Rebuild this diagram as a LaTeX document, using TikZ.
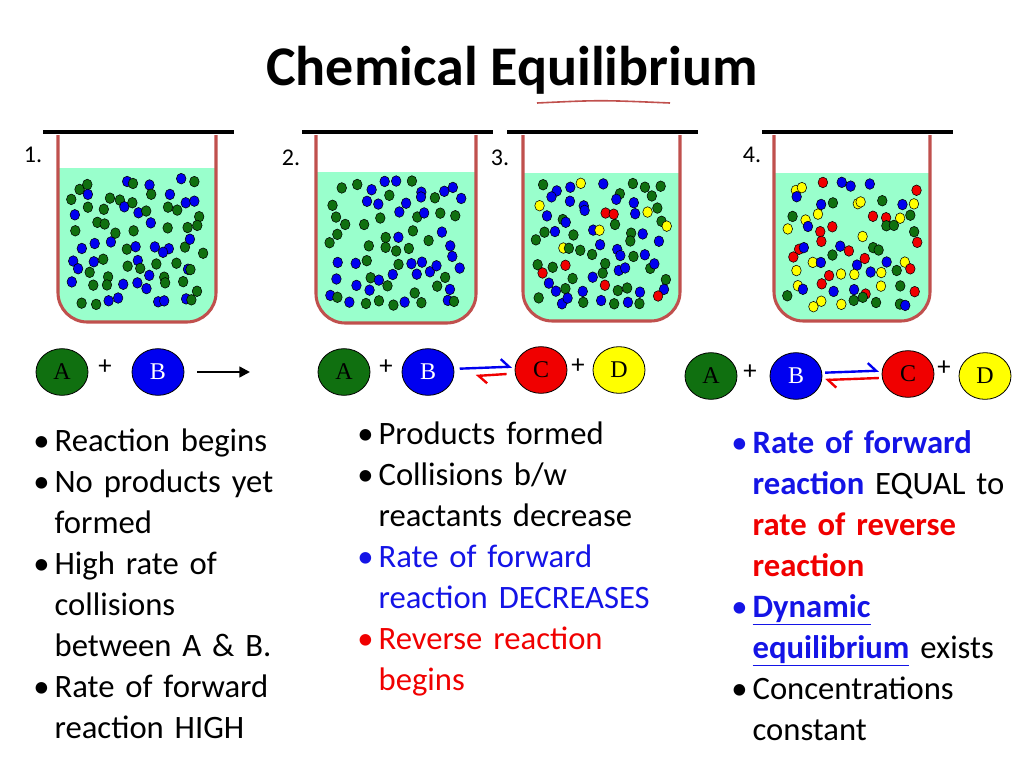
\documentclass[tikz,border=0pt]{standalone}
\usepackage{fontspec}
\setmainfont{Carlito}
\newfontfamily\serifx{Liberation Serif}
\usetikzlibrary{shapes.geometric,arrows.meta}
\definecolor{dgreen}{RGB}{16,112,16}
\definecolor{dblue}{RGB}{0,0,240}
\definecolor{dred}{RGB}{240,0,0}
\definecolor{dyel}{RGB}{255,255,0}
\definecolor{wall}{RGB}{192,80,77}
\definecolor{liq}{RGB}{153,255,204}
\definecolor{tblue}{RGB}{20,20,230}
\newcommand\fillbeaker[7]{% x1 x2 liq bot cumG cumB cumR
 \foreach \c in {0,...,8}{\foreach \r in {0,...,8}{%
  \pgfmathsetmacro\ppx{#1+12+(\c+0.5+(rnd-0.5)*0.9)*(#2-#1-24)/9}%
  \pgfmathsetmacro\ppy{#3+8+(\r+0.5+(rnd-0.5)*0.9)*(#4-#3-20)/9}%
  \pgfmathsetmacro\pc{rnd}%
  \pgfmathtruncatemacro\col{\pc<#5 ? 1 : (\pc<#6 ? 2 : (\pc<#7 ? 3 : 4))}%
  \ifcase\col\or\def\dc{dgreen}\or\def\dc{dblue}\or\def\dc{dred}\else\def\dc{dyel}\fi
  \pgfmathsetmacro\skip{rnd}%
  \ifdim\skip pt<0.9pt
  \fill[\dc,draw=black,line width=0.4pt] (\ppx,\ppy) ellipse (3.6pt and 4pt);
  \fi
 }}}
\newcommand\beaker[5]{% x1 x2 liquid bottom lineleft
  \fill[liq] (#1,#3) -- (#1,#4-30) [rounded corners=22] -- (#1,#4) -- (#2,#4) [sharp corners] -- (#2,#4-30) -- (#2,#3) -- cycle;
  \draw[wall,line width=2.3pt] (#1,135) -- (#1,#4-30) [rounded corners=22] -- (#1,#4) -- (#2,#4) [sharp corners] -- (#2,#4-30) -- (#2,135);
  \draw[line width=2.3pt] (#5,132) -- ++(191,0);
}
\tikzset{mol/.style={ellipse,draw=black,line width=0.6pt,minimum width=39pt,minimum height=35pt,inner sep=0pt,font=\serifx\fontsize{18}{18}\selectfont},
 pl/.style={font=\fontsize{20}{20}\selectfont},
 txt/.style={anchor=north west,inner sep=0pt,font=\fontsize{24.5}{30.8}\selectfont},
 num/.style={font=\fontsize{18}{18}\selectfont}}
\newcommand\bit[2][black]{\par\raggedright\hangindent=16pt\hangafter=1\noindent\makebox[16pt][l]{\color{#1}\textbullet}#2\par}
\begin{document}
\begin{tikzpicture}[x=0.75pt,y=-0.75pt]
\useasboundingbox (0,0) rectangle (1024,768);
\node (title) at (512,70) {\fontsize{42}{42}\selectfont\bfseries Chemical Equilibrium};
\draw[wall,line width=1.2pt] (537,103) .. controls (600,100) .. (670,103);
\pgfmathsetseed{11}
\beaker{58}{216}{168}{322}{43}
\beaker{316}{476}{172}{323}{302}
\beaker{523}{680}{173}{321}{507}
\beaker{774}{930}{173}{321}{762}
\fillbeaker{58}{216}{168}{322}{0.52}{1.1}{1.2}
\fillbeaker{316}{476}{172}{323}{0.5}{0.95}{0.975}
\fillbeaker{523}{680}{173}{321}{0.38}{0.78}{0.89}
\fillbeaker{774}{930}{173}{321}{0.22}{0.45}{0.72}
\node[num] (n1) at (33,155) {1.};
\node[num] (n2) at (291,158) {2.};
\node[num] (n3) at (500,158) {3.};
\node[num] (n4) at (752,155) {4.};
% row 1
\node[mol,fill=dgreen] (a1) at (62,372) {A};
\node[pl] (p1) at (105,367) {+};
\node[mol,fill=dblue,text=white] (b1) at (158,372) {B};
\coordinate (e1) at (250,372);
\draw[line width=1.8pt,-{Triangle[length=8pt,width=8pt]}] (197,372) -- (e1);
% row 2
\node[mol,fill=dgreen] (a2) at (344,372) {A};
\node[pl] (p2) at (386,367) {+};
\node[mol,fill=dblue,text=white] (b2) at (428,372) {B};
\node[mol,fill=dred] (c2) at (541,370) {C};
\node[pl] (p3) at (578,366) {+};
\node[mol,fill=dyel] (d2) at (619,370) {D};
\draw[dblue,line width=1.8pt,-{Straight Barb[left,length=6pt]}] ([yshift=2.5pt,xshift=4pt]b2.east) -- ([yshift=2.5pt,xshift=-2pt]c2.west);
\draw[dred,line width=1.8pt,-{Straight Barb[left,length=6pt]}] ([yshift=-3pt,xshift=-6pt]c2.west) -- ([yshift=-3pt,xshift=16pt]b2.east);
% row 4
\node[mol,fill=dgreen] (a4) at (711,376) {A};
\node[pl] (p4) at (750,372) {+};
\node[mol,fill=dblue,text=white] (b4) at (796,376) {B};
\node[mol,fill=dred] (c4) at (908,374) {C};
\node[pl] (p5) at (944,368) {+};
\node[mol,fill=dyel] (d4) at (985,376) {D};
\draw[dblue,line width=1.8pt,-{Straight Barb[left,length=6pt]}] ([yshift=2.5pt,xshift=2pt]b4.east) -- ([yshift=2.5pt,xshift=-2pt]c4.west);
\draw[dred,line width=1.8pt,-{Straight Barb[left,length=6pt]}] ([yshift=-3pt,xshift=-2pt]c4.west) -- ([yshift=-3pt,xshift=2pt]b4.east);
% text
\node[txt,text width=250pt] (t1) at (33,410) {%
\bit{Reaction begins}
\bit{No products yet\newline formed}
\bit{High rate of\newline collisions\newline between A \& B.}
\bit{Rate of forward\newline reaction HIGH}};
\node[txt,text width=250pt] (t2) at (357,403) {%
\bit{Products formed}
\bit{Collisions b/w\newline reactants decrease}
\bit[tblue]{\color{tblue}Rate of forward\newline reaction DECREASES}
\bit[dred]{\color{dred}Reverse reaction\newline begins}};
\node[txt,text width=250pt] (t3) at (731,412) {%
\bit[tblue]{\textbf{\color{tblue}Rate of forward\newline reaction} EQUAL to\newline \textbf{\color{dred}rate of reverse\newline reaction}}
\bit[tblue]{\textbf{\color{tblue}\underline{Dynamic}\newline \underline{equilibrium}} exists}
\bit{Concentrations\newline constant}};
\end{tikzpicture}
\end{document}
